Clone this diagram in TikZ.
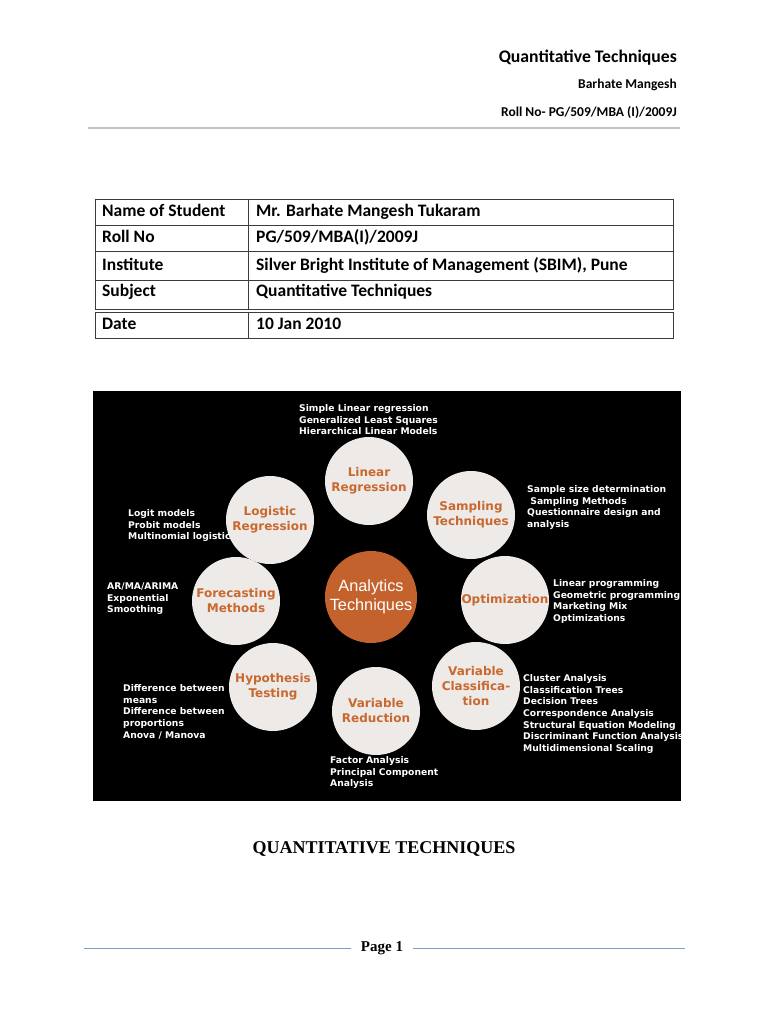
\documentclass[tikz,border=0pt]{standalone}
\usepackage{fontspec}
\setmainfont{Carlito}
\newfontfamily\verd{DejaVu Sans}
\newfontfamily\arialf{Liberation Sans}
\newfontfamily\timesf{Liberation Serif}
\usetikzlibrary{positioning}

\definecolor{rust}{HTML}{C4622D}
\definecolor{rusttext}{HTML}{C9682F}
\definecolor{bubblegray}{HTML}{EDEAE7}
\definecolor{rulegray}{HTML}{C4C4C4}
\definecolor{footblue}{HTML}{7F9EC0}
\definecolor{gridgray}{HTML}{3C3C3C}

\begin{document}
\begin{tikzpicture}[x=1pt,y=-1pt,
hdr/.style={anchor=base east,inner sep=0pt},
cell/.style={anchor=base west,inner sep=0pt,font=\bfseries\fontsize{17.5}{20}\selectfont},
grid/.style={draw=gridgray,line width=0.9pt},
bubble/.style={circle,fill=bubblegray,minimum size=88pt,inner sep=0pt,align=center,text=rusttext,font=\verd\bfseries\fontsize{12}{15}\selectfont},
hub/.style={circle,fill=rust,minimum size=92pt,inner sep=0pt,align=center,text=white,font=\arialf\fontsize{16.3}{19}\selectfont},
note/.style={anchor=north west,inner sep=0pt,align=left,text=white,font=\verd\bfseries\fontsize{9.2}{11.6}\selectfont},
footrule/.style={draw=footblue,line width=1pt}
]
\useasboundingbox (0,0) rectangle (768,1024);

% header
\node[hdr,font=\bfseries\fontsize{17.7}{20}\selectfont] (title) at (677,62.5) {Quantitative Techniques};
\node[hdr,font=\bfseries\fontsize{13.5}{15}\selectfont] (author) at (677,88.5) {Barhate Mangesh};
\node[hdr,font=\bfseries\fontsize{13.5}{15}\selectfont] (roll) at (677,116.5) {Roll No- PG/509/MBA (I)/2009J};
\coordinate (rl) at (88,128);
\coordinate (rr) at (680,128);
\draw[draw=rulegray,line width=1.6pt] (rl) -- (rr);

% details table
\draw[grid] (95,199) rectangle (673,309);
\draw[grid] (95,225) -- (673,225);
\draw[grid] (95,251) -- (673,251);
\draw[grid] (95,280) -- (673,280);
\draw[grid] (248,199) -- (248,309);
\draw[grid] (95,312) rectangle (673,338);
\draw[grid] (248,312) -- (248,338);

\node[cell] (k1) at (102,217) {Name of Student};
\node[cell] (v1) at (256,217) {Mr. Barhate Mangesh Tukaram};
\node[cell] (k2) at (102,243) {Roll No};
\node[cell] (v2) at (256,243) {PG/509/MBA(I)/2009J};
\node[cell] (k3) at (102,270) {Institute};
\node[cell] (v3) at (256,270) {Silver Bright Institute of Management (SBIM), Pune};
\node[cell] (k4) at (102,296) {Subject};
\node[cell] (v4) at (256,296) {Quantitative Techniques};
\node[cell] (k5) at (102,329) {Date};
\node[cell] (v5) at (256,329) {10 Jan 2010};

% analytics panel
\fill[black] (93,391) rectangle (681,801);

\node[hub] (analytics) at (371,597) {Analytics\\Techniques};
\node[bubble] (linreg) at (369,481) {Linear\\Regression};
\node[bubble] (logreg) at (270,520) {Logistic\\Regression};
\node[bubble] (sampling) at (471,515) {Sampling\\Techniques};
\node[bubble] (forecast) at (236,601) {Forecasting\\Methods};
\node[bubble] (optim) at (505,600) {Optimization};
\node[bubble] (hypo) at (273,687) {Hypothesis\\Testing};
\node[bubble] (varclass) at (476,686) {Variable\\Classifica-\\tion};
\node[bubble] (varred) at (376,711) {Variable\\Reduction};

\begin{scope}
\clip (93,391) rectangle (683,801);
\node[note] (linregnote) at (299,404.5) {Simple Linear regression\\Generalized Least Squares\\Hierarchical Linear Models};
\node[note] (logregnote) at (128,509.5) {Logit models\\Probit models\\Multinomial logistic};
\node[note] (samplingnote) at (527,485.5) {Sample size determination\\\ Sampling Methods\\Questionnaire design and\\analysis};
\node[note] (forecastnote) at (107,582.5) {AR/MA/ARIMA\\Exponential\\Smoothing};
\node[note] (optimnote) at (553,579.5) {Linear programming\\Geometric programming\\Marketing Mix\\Optimizations};
\node[note] (hyponote) at (123,684.5) {Difference between\\means\\Difference between\\proportions\\Anova / Manova};
\node[note] (varclassnote) at (523,674.5) {Cluster Analysis\\Classification Trees\\Decision Trees\\Correspondence Analysis\\Structural Equation Modeling\\Discriminant Function Analysis\\Multidimensional Scaling};
\node[note] (varrednote) at (330,756.5) {Factor Analysis\\Principal Component\\Analysis};
\end{scope}

% caption
\node[font=\timesf\bfseries\fontsize{18}{21}\selectfont] (caption) at (384,849) {QUANTITATIVE TECHNIQUES};

% footer
\node[font=\timesf\bfseries\fontsize{15}{17}\selectfont,inner xsep=10pt] (page) at (382,948) {Page 1};
\coordinate (fl) at (84,948);
\coordinate (fr) at (685,948);
\draw[footrule] (fl) -- (page.west);
\draw[footrule] (page.east) -- (fr);
\end{tikzpicture}
\end{document}
